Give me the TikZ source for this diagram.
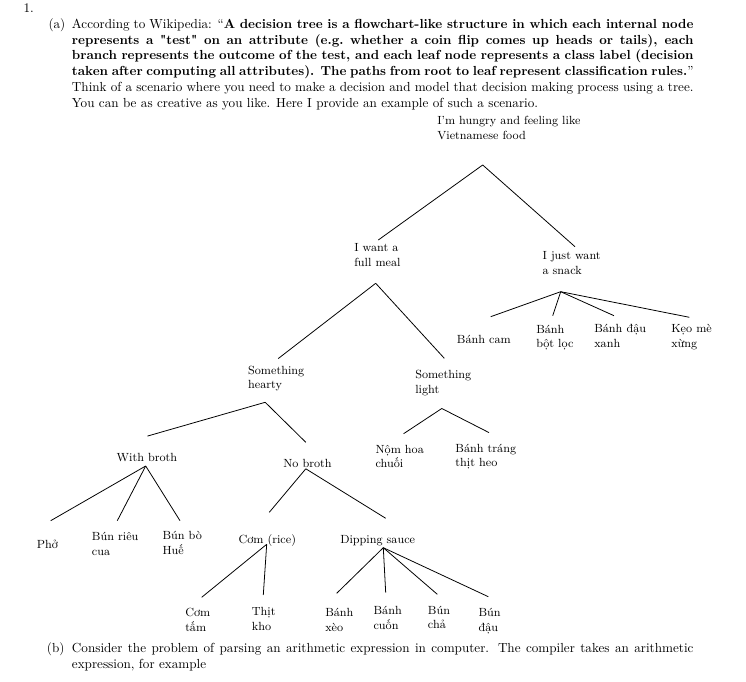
\documentclass[tikz,border=0pt]{standalone}
\begin{document}
\begin{tikzpicture}[x=0.761pt,y=-0.761pt,
  txt/.style={inner sep=0pt,anchor=base west,align=left,font=\small},
  two/.style={txt,yshift=-11pt},
  body/.style={inner sep=0pt,anchor=base west,text width=473pt,align=justify},
  lbl/.style={inner sep=0pt,anchor=base west},
  edge/.style={line width=0.6pt}]
\useasboundingbox (0,0) rectangle (746,682);
% header text
\node[lbl] (num) at (23.3,12.7) {1.};
\node[lbl] (pa) at (48.3,28.3) {(a)};
\node[body] (ptexta) at (71.7,28.3) {According to Wikipedia: “\textbf{A decision tree is a flowchart-like structure in which each internal node represents a \textquotedbl test\textquotedbl{} on an attribute (e.g.\ whether a coin flip comes up heads or tails), each branch represents the outcome of the test, and each leaf node represents a class label (decision taken after computing all attributes). The paths from root to leaf represent classification rules.}” Think of a scenario where you need to make a decision and model that decision making process using a tree. You can be as creative as you like. Here I provide an example of such a scenario.};
\node[lbl] (pb) at (46.7,652.7) {(b)};
\node[body] (ptextb) at (71.7,652.7) {Consider the problem of parsing an arithmetic expression in computer. The compiler takes an arithmetic expression, for example};
% tree nodes (coordinate = baseline of first line)
\node[two] (root) at (437,125) {I’m hungry and feeling like\\Vietnamese food};
\node[two] (full) at (354,251.7) {I want a\\full meal};
\node[two] (snack) at (542.3,260) {I just want\\a snack};
\node[txt] (bcam) at (456.7,343.3) {Bánh cam};
\node[two] (bbl) at (536,333.3) {Bánh\\bột lọc};
\node[two] (bdx) at (594,333) {Bánh đậu\\xanh};
\node[two] (kmx) at (671,333) {Kẹo mè\\xừng};
\node[two] (hearty) at (247.9,374.1) {Something\\hearty};
\node[two] (light) at (415,378.6) {Something\\light};
\node[two] (nom) at (375.3,453.3) {Nộm hoa\\chuối};
\node[two] (btt) at (455.2,452.3) {Bánh tráng\\thịt heo};
\node[txt] (withb) at (116.4,461.9) {With broth};
\node[txt] (nob) at (283,467.8) {No broth};
\node[txt] (pho) at (36.7,549) {Phở};
\node[two] (brc) at (91.7,540.7) {Bún riêu\\cua};
\node[two] (bbh) at (162.3,540) {Bún bò\\Huế};
\node[txt] (com) at (238.3,543.3) {Cơm (rice)};
\node[txt] (dip) at (340,543.3) {Dipping sauce};
\node[two] (ctam) at (185,616.7) {Cơm\\tấm};
\node[two] (tk) at (251.7,616) {Thịt\\kho};
\node[two] (bx) at (325,616.7) {Bánh\\xèo};
\node[two] (bc) at (373.3,615) {Bánh\\cuốn};
\node[two] (bcha) at (427.7,614.3) {Bún\\chả};
\node[two] (bdau) at (478.3,616.7) {Bún\\đậu};
% branch points (below parents)
\coordinate (root-o) at (482.7,165);
\coordinate (full-o) at (375.7,283.3);
\coordinate (snack-o) at (560.7,291.7);
\coordinate (hearty-o) at (265.2,402.3);
\coordinate (light-o) at (441.8,408.5);
\coordinate (withb-o) at (145.7,466);
\coordinate (nob-o) at (305.8,468.8);
\coordinate (com-o) at (266.7,544.3);
\coordinate (dip-o) at (383.3,547.7);
% entry points (above children)
\coordinate (full-i) at (378.3,240);
\coordinate (snack-i) at (575,246.7);
\coordinate (hearty-i) at (278.2,358.6);
\coordinate (light-i) at (444.3,358.3);
\coordinate (bcam-i) at (490.7,316.7);
\coordinate (bbl-i) at (552.7,315.7);
\coordinate (bdx-i) at (614,315.7);
\coordinate (kmx-i) at (689.3,317.3);
\coordinate (withb-i) at (147.4,436.1);
\coordinate (nob-i) at (305.8,442.3);
\coordinate (nom-i) at (403.6,433.7);
\coordinate (btt-i) at (489,432.6);
\coordinate (pho-i) at (50.7,520.7);
\coordinate (brc-i) at (117.3,520.7);
\coordinate (bbh-i) at (180,520.7);
\coordinate (com-i) at (269.3,512.3);
\coordinate (dip-i) at (385.7,518.3);
\coordinate (ctam-i) at (201.7,597.3);
\coordinate (tk-i) at (263.3,595);
\coordinate (bx-i) at (336.7,593.3);
\coordinate (bc-i) at (385.7,592.7);
\coordinate (bcha-i) at (437.3,594.3);
\coordinate (bdau-i) at (488.3,596.7);
% edges
\draw[edge] (root-o) -- (full-i);
\draw[edge] (root-o) -- (snack-i);
\draw[edge] (full-o) -- (hearty-i);
\draw[edge] (full-o) -- (light-i);
\foreach \c in {bcam,bbl,bdx,kmx} \draw[edge] (snack-o) -- (\c-i);
\draw[edge] (hearty-o) -- (withb-i);
\draw[edge] (hearty-o) -- (nob-i);
\draw[edge] (light-o) -- (nom-i);
\draw[edge] (light-o) -- (btt-i);
\foreach \c in {pho,brc,bbh} \draw[edge] (withb-o) -- (\c-i);
\draw[edge] (nob-o) -- (com-i);
\draw[edge] (nob-o) -- (dip-i);
\draw[edge] (com-o) -- (ctam-i);
\draw[edge] (com-o) -- (tk-i);
\foreach \c in {bx,bc,bcha,bdau} \draw[edge] (dip-o) -- (\c-i);
\end{tikzpicture}
\end{document}
